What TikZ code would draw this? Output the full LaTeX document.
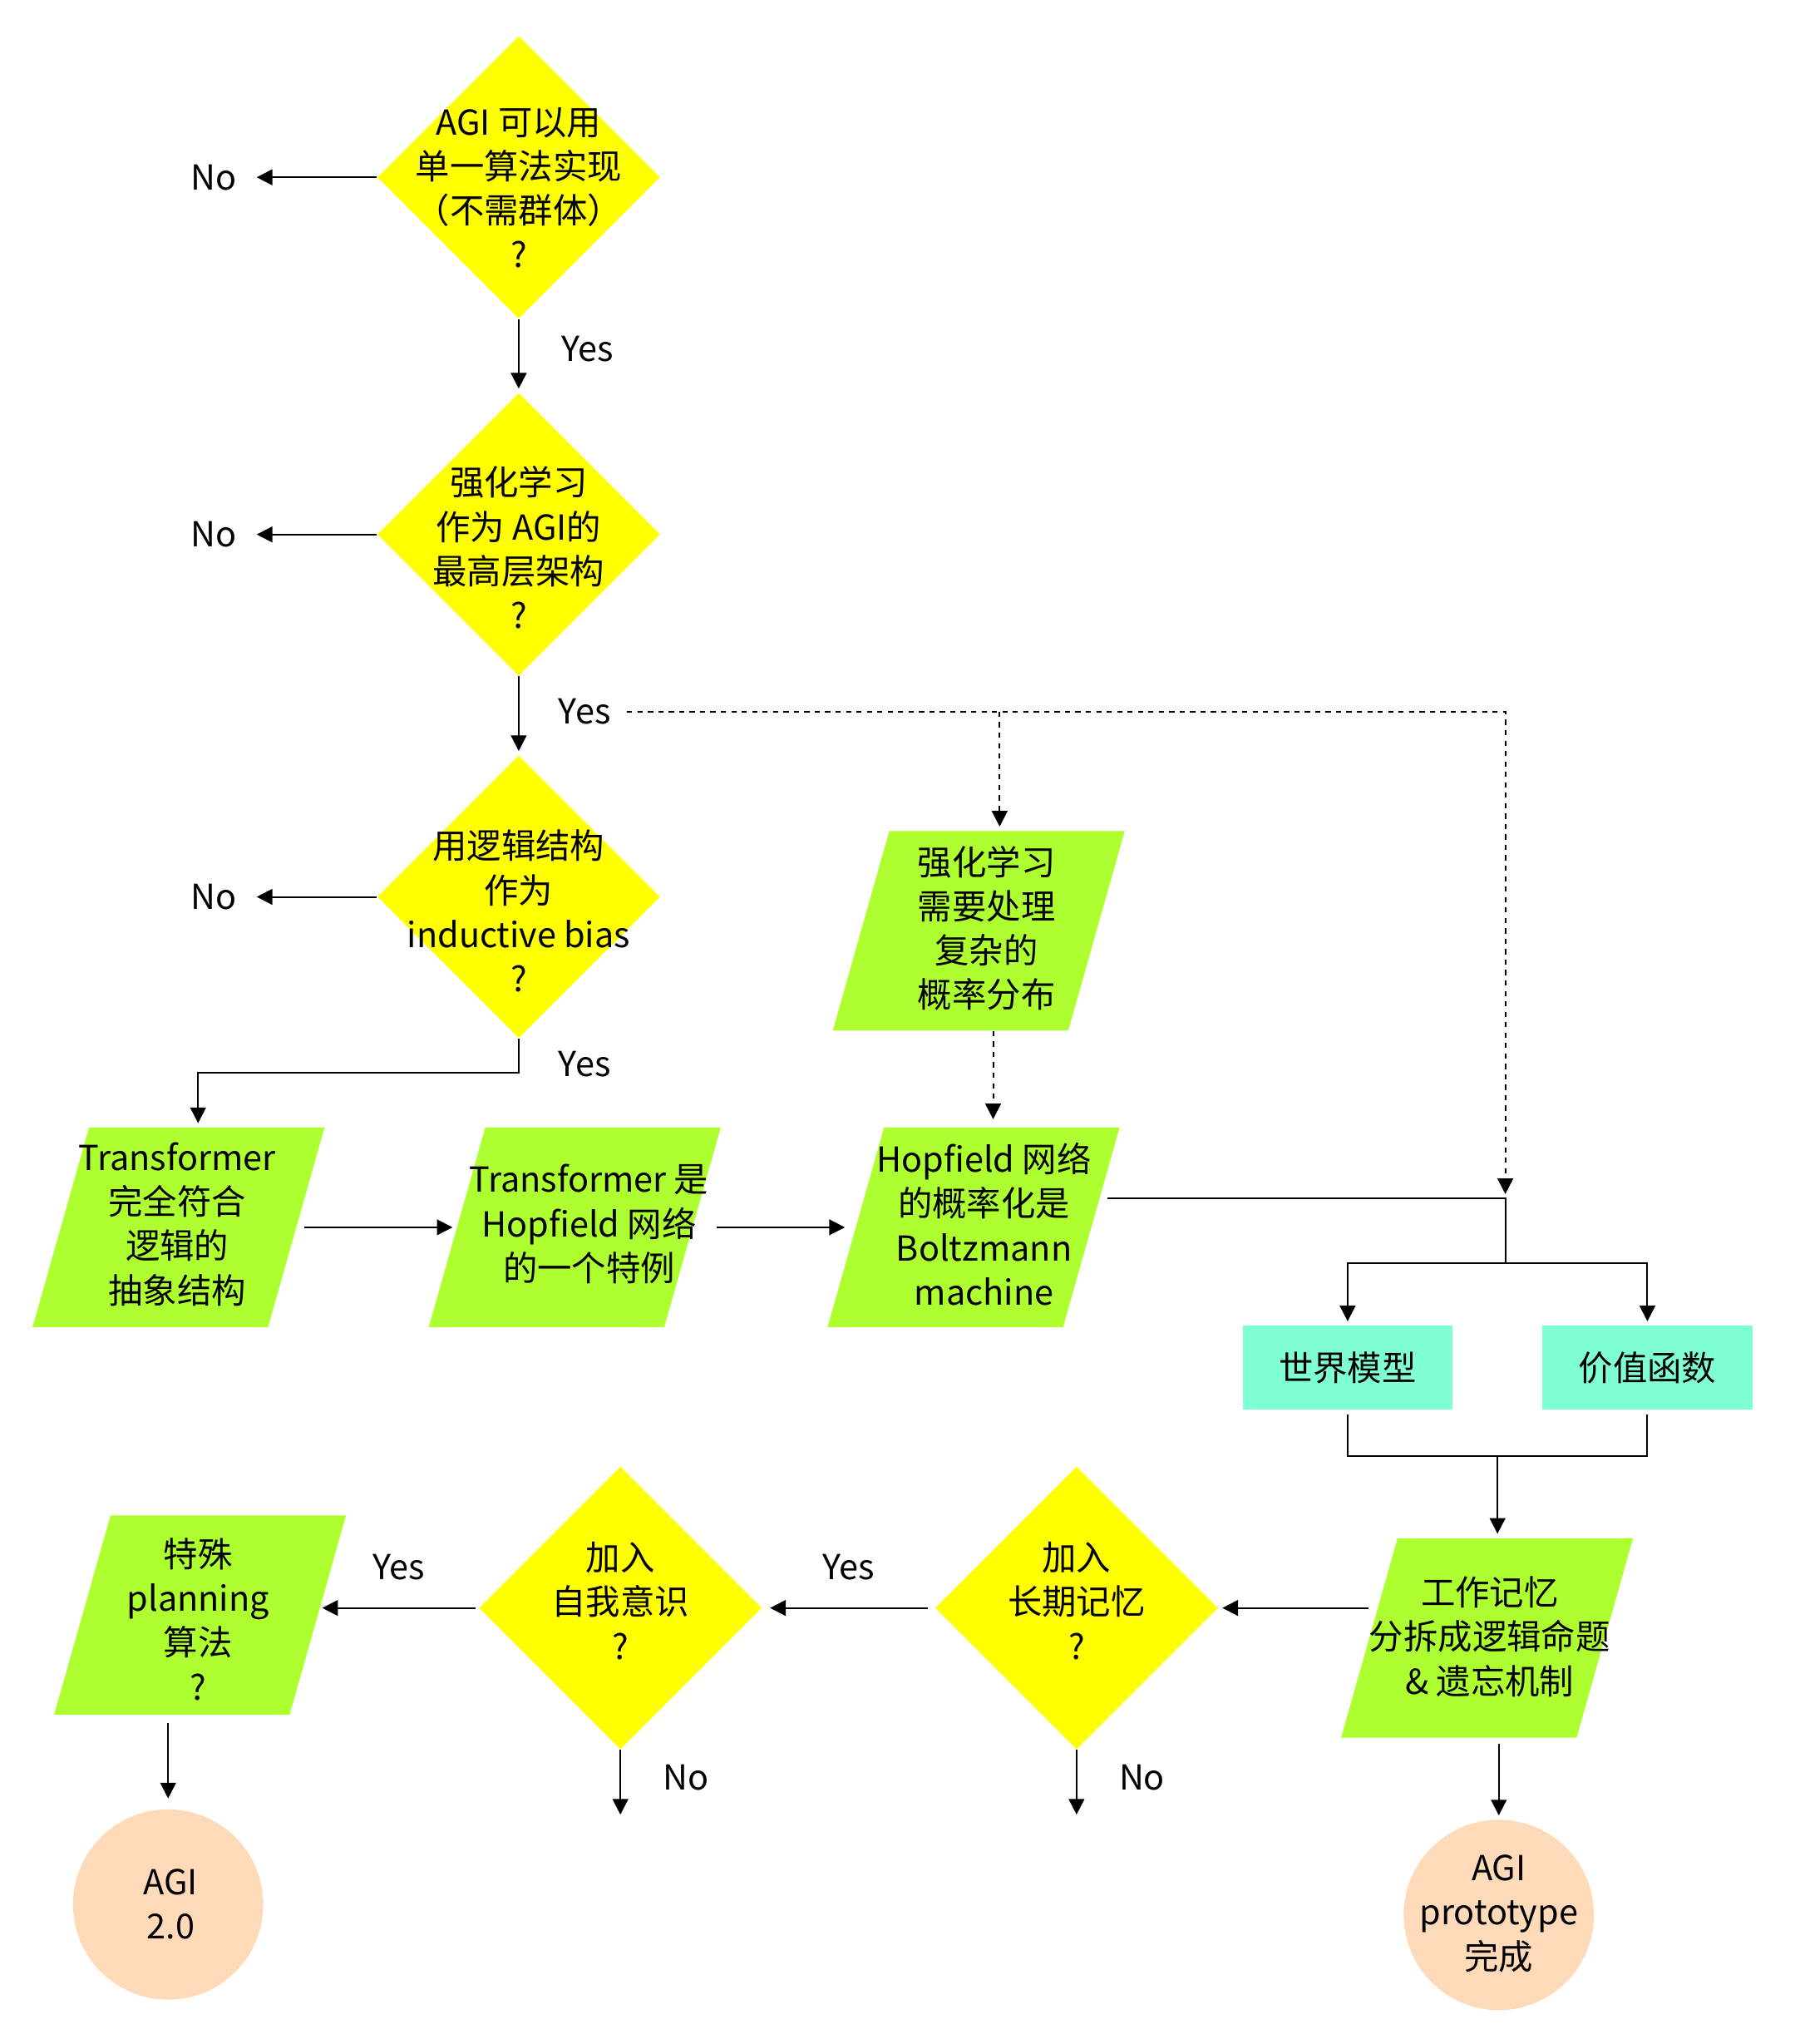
\documentclass[tikz,border=0pt]{standalone}
\usepackage{fontspec}
\setmainfont{Noto Sans CJK SC}
\usetikzlibrary{positioning,arrows.meta,shapes.geometric,calc}
\definecolor{qyellow}{HTML}{FFFF00}
\definecolor{iogreen}{HTML}{ADFF2F}
\definecolor{modcyan}{HTML}{7FFFD4}
\definecolor{termpeach}{HTML}{FFDAB9}

\begin{document}
\begin{tikzpicture}[x=0.5pt,y=-0.5pt,font=\fontsize{13.2}{17}\selectfont,
  decide/.style={diamond,fill=qyellow,minimum width=108.5pt,minimum height=108.5pt,inner sep=0pt},
  io/.style={trapezium,trapezium left angle=72.5,trapezium right angle=107.5,trapezium stretches=true,
    fill=iogreen,minimum width=112pt,minimum height=76.5pt,inner sep=1pt},
  modbox/.style={rectangle,fill=modcyan,minimum width=80.5pt,minimum height=32pt,inner sep=0pt},
  term/.style={circle,fill=termpeach,minimum size=73pt,inner sep=0pt},
  txt/.style={align=center,inner sep=0pt},
  lbl/.style={inner sep=0pt},
  wire/.style={line width=0.65pt},
  arr/.style={wire,shorten >=1.5pt,-{Triangle[length=6pt,width=6pt]}},
  dasharr/.style={arr,dash pattern=on 2pt off 2pt}]
\useasboundingbox (0,0) rectangle (1377,1568);

% Decisions on the left column
\node[decide] (d1) at (398,136) {};
\node[txt] (d1t) at (398,144) {AGI 可以用\\单一算法实现\\（不需群体）\\?};
\node[decide] (d2) at (398,410) {};
\node[txt] (d2t) at (398,420) {强化学习\\作为 AGI的\\最高层架构\\?};
\node[decide] (d3) at (398,688) {};
\node[txt] (d3t) at (398,699) {用逻辑结构\\作为\\inductive bias\\?};

\foreach \i/\y in {1/136,2/410,3/688} {
  \node[lbl] (no\i) at (164,\y) {No};
  \draw[arr,shorten >=7.5pt] (d\i.west) -- (no\i.east);
}

\draw[arr] (d1.south) -- node[lbl,pos=0.4,right=16pt] (yes1) {Yes} (d2.north);
\draw[arr] (d2.south) -- node[lbl,pos=0.45,right=15pt] (yes2) {Yes} (d3.north);

% Middle row of parallelograms
\node[io] (p1) at (137,941.5) {};
\node[txt] (p1t) at (136,939) {Transformer\\完全符合\\逻辑的\\抽象结构};
\node[io] (p2) at (441,941.5) {};
\node[txt] (p2t) at (452,939) {Transformer 是\\Hopfield 网络\\的一个特例};
\node[io] (p3) at (747,941.5) {};
\node[txt] (p3t) at (755,939) {Hopfield 网络\\的概率化是\\Boltzmann\\machine};
\node[io] (p4) at (751,714) {};
\node[txt] (p4t) at (757,712) {强化学习\\需要处理\\复杂的\\概率分布};

\draw[arr] (d3.south) -- node[lbl,pos=0.75,right=15pt] (yes3) {Yes} ++(0,26) -| ($(p1.north)+(15,0)$);
\draw[arr,shorten <=3pt] (p1.east) -- (p2.west);
\draw[arr,shorten <=9pt,shorten >=4pt] (p2.east) -- (p3.west);

% Dashed branches from the second decision
\coordinate (jn) at (1155,919);
\coordinate (sp) at (1155,969);
\draw[dasharr] ([xshift=6pt]yes2.east) -| (jn);
\draw[dasharr] ($(p4.north |- yes2.east)+(16,0)$) -- ($(p4.north)+(16,0)$);
\draw[dasharr,shorten >=3pt] ($(p4.south)+(11,0)$) -- ($(p4.south |- p3.north)+(11,0)$);

% World model and value function
\node[modbox] (r1) at (1034,1049) {世界模型};
\node[modbox] (r2) at (1264,1049) {价值函数};
\draw[wire] ($(p3.east |- jn)+(12,0)$) -- (jn) -- (sp);
\draw[arr] (sp) -| (r1.north);
\draw[arr] (sp) -| (r2.north);

\coordinate (mg) at (1149,1117);
\node[io] (p5) at (1141,1256.5) {};
\node[txt] (p5t) at (1143,1255.5) {工作记忆\\分拆成逻辑命题\\\& 遗忘机制};
\draw[wire] ([yshift=-2pt]r1.south) |- (mg) -| ([yshift=-2pt]r2.south);
\draw[arr] (mg) -- (mg |- p5.north);

\node[term] (c2) at (1150,1469) {};
\node[txt] (c2t) at (1150,1468) {AGI\\prototype\\完成};
\draw[arr,shorten <=2pt] (c2.north |- p5.south) -- (c2.north);

% Bottom row, right to left
\node[decide] (d4) at (826,1233.5) {};
\node[txt] (d4t) at (826,1228) {加入\\长期记忆\\?};
\node[decide] (d5) at (476,1233.5) {};
\node[txt] (d5t) at (476,1228) {加入\\自我意识\\?};
\node[io] (p6) at (153.5,1239) {};
\node[txt] (p6t) at (152,1242) {特殊\\planning\\算法\\?};
\node[term] (c1) at (129,1461) {};
\node[txt] (c1t) at (131,1460.5) {AGI\\2.0};

\draw[arr] (p5.west |- d4.east) -- (d4.east);
\draw[arr,shorten <=2.5pt,shorten >=3pt] (d4.west) -- node[lbl,above=10.5pt] (yes4) {Yes} (d5.east);
\draw[arr,shorten <=1pt] (d5.west) -- node[lbl,above=10.5pt] (yes5) {Yes} (d5.west -| p6.east);

\coordinate (e4) at (826,1395);
\coordinate (e5) at (476,1395);
\draw[arr] (d4.south) -- node[lbl,pos=0.4,right=16pt] (no4) {No} (e4);
\draw[arr] (d5.south) -- node[lbl,pos=0.4,right=16pt] (no5) {No} (e5);
\draw[arr,shorten <=3pt,shorten >=4pt] (c1.north |- p6.south) -- (c1.north);
\end{tikzpicture}
\end{document}
